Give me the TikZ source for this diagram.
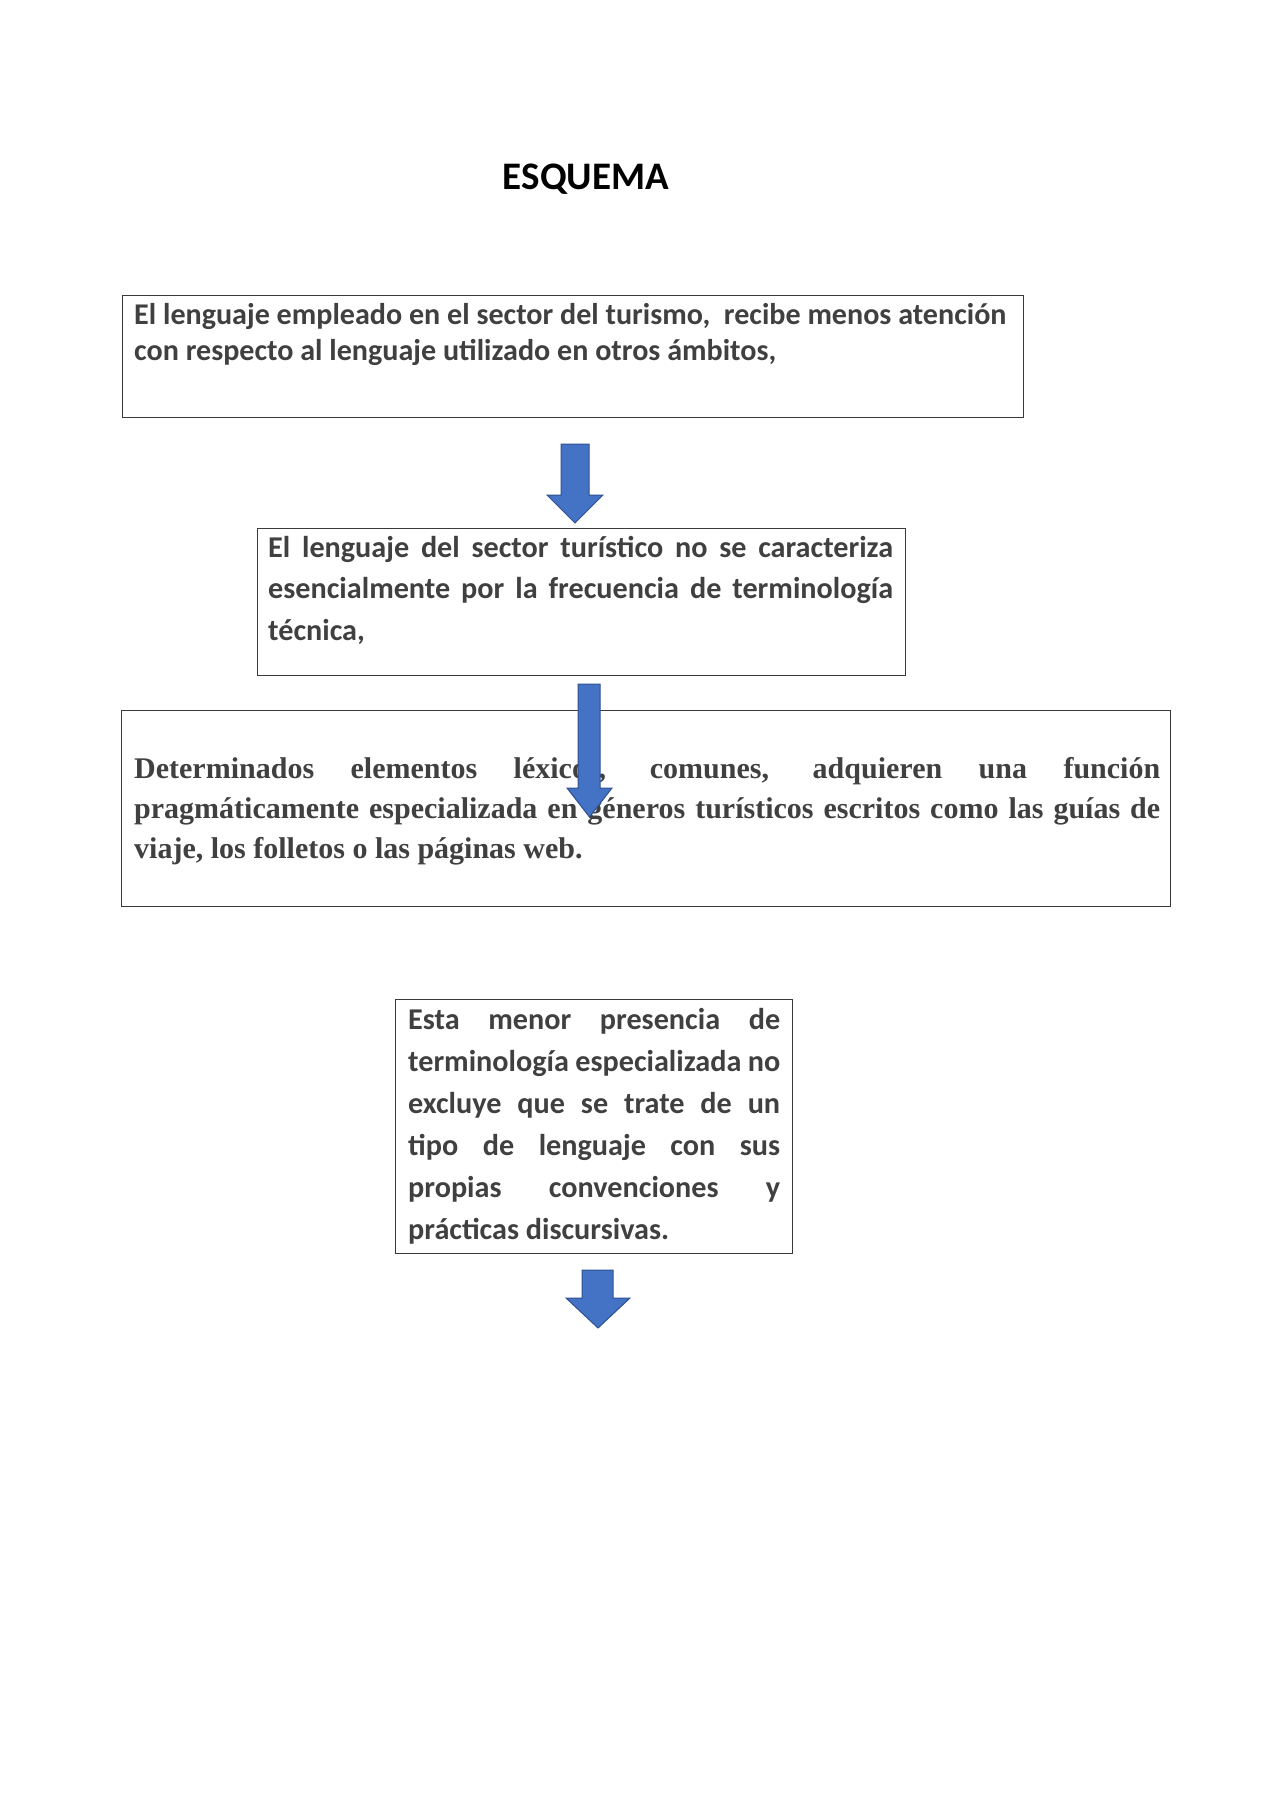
\documentclass[tikz,border=0pt]{standalone}
\usepackage{fontspec}
\setmainfont{Carlito}
\newfontfamily\tnr{Liberation Serif}
\definecolor{boxgray}{HTML}{3A3A3A}
\definecolor{txtgray}{HTML}{404040}
\definecolor{arrowblue}{HTML}{4472C4}
\definecolor{arrowedge}{HTML}{2F528F}
\newcommand\jline[1]{\makebox[\linewidth][s]{#1}\par}
\tikzset{
  frame/.style={draw=boxgray, line width=1.3pt, inner sep=0pt, anchor=north west},
  txt/.style={anchor=base west, inner sep=0pt, text=txtgray},
  blockarrow/.style={fill=arrowblue, draw=arrowedge, line width=1pt, line join=miter},
}
\begin{document}
\begin{tikzpicture}[x=1pt,y=-1pt]
\useasboundingbox[fill=white] (0,0) rectangle (1280,1811);

% title
\node[anchor=base, inner sep=0pt, font=\fontsize{39}{44}\selectfont\bfseries] (title) at (586,190) {ESQUEMA};

% box 1
\node[frame, minimum width=901.5pt, minimum height=122pt] (b1) at (121.5,295) {};
\node[txt] (t1) at (134,324) {\parbox[t]{890pt}{\fontsize{30.1}{36}\selectfont\bfseries
El lenguaje empleado en el sector del turismo,~ recibe menos atención\par
con respecto al lenguaje utilizado en otros ámbitos,}};

% arrow 1
\path[blockarrow] (561,444) -- (589,444) -- (589,495) -- (603,495) -- (575,523) -- (547,495) -- (561,495) -- cycle;

% box 2
\node[frame, minimum width=648pt, minimum height=147pt] (b2) at (257,528) {};
\node[txt] (t2) at (268,557) {\parbox[t]{625pt}{\fontsize{30.2}{41.5}\selectfont\bfseries
\jline{El lenguaje del sector turístico no se caracteriza}
\jline{esencialmente por la frecuencia de terminología}
técnica,}};

% box 3
\node[frame, minimum width=1049pt, minimum height=196pt] (b3) at (121,710) {};
\node[txt] (t3) at (134,778) {\parbox[t]{1026pt}{\tnr\fontsize{30}{40}\selectfont\bfseries
\jline{Determinados elementos léxicos, comunes, adquieren una función}
\jline{pragmáticamente especializada en géneros turísticos escritos como las guías de}
viaje, los folletos o las páginas web.}};

% arrow 2
\path[blockarrow] (578,684) -- (600,684) -- (600,788) -- (612,788) -- (589.5,817) -- (567,788) -- (578,788) -- cycle;

% box 4
\node[frame, minimum width=397pt, minimum height=254pt] (b4) at (395,999) {};
\node[txt] (t4) at (408,1029) {\parbox[t]{372pt}{\fontsize{30.2}{42}\selectfont\bfseries
\jline{Esta menor presencia de}
\jline{terminología especializada no}
\jline{excluye que se trate de un}
\jline{tipo de lenguaje con sus}
\jline{propias convenciones y}
prácticas discursivas.}};

% arrow 3
\path[blockarrow] (582,1270) -- (613,1270) -- (613,1298) -- (630,1298) -- (598,1328) -- (566,1298) -- (582,1298) -- cycle;
\end{tikzpicture}
\end{document}
